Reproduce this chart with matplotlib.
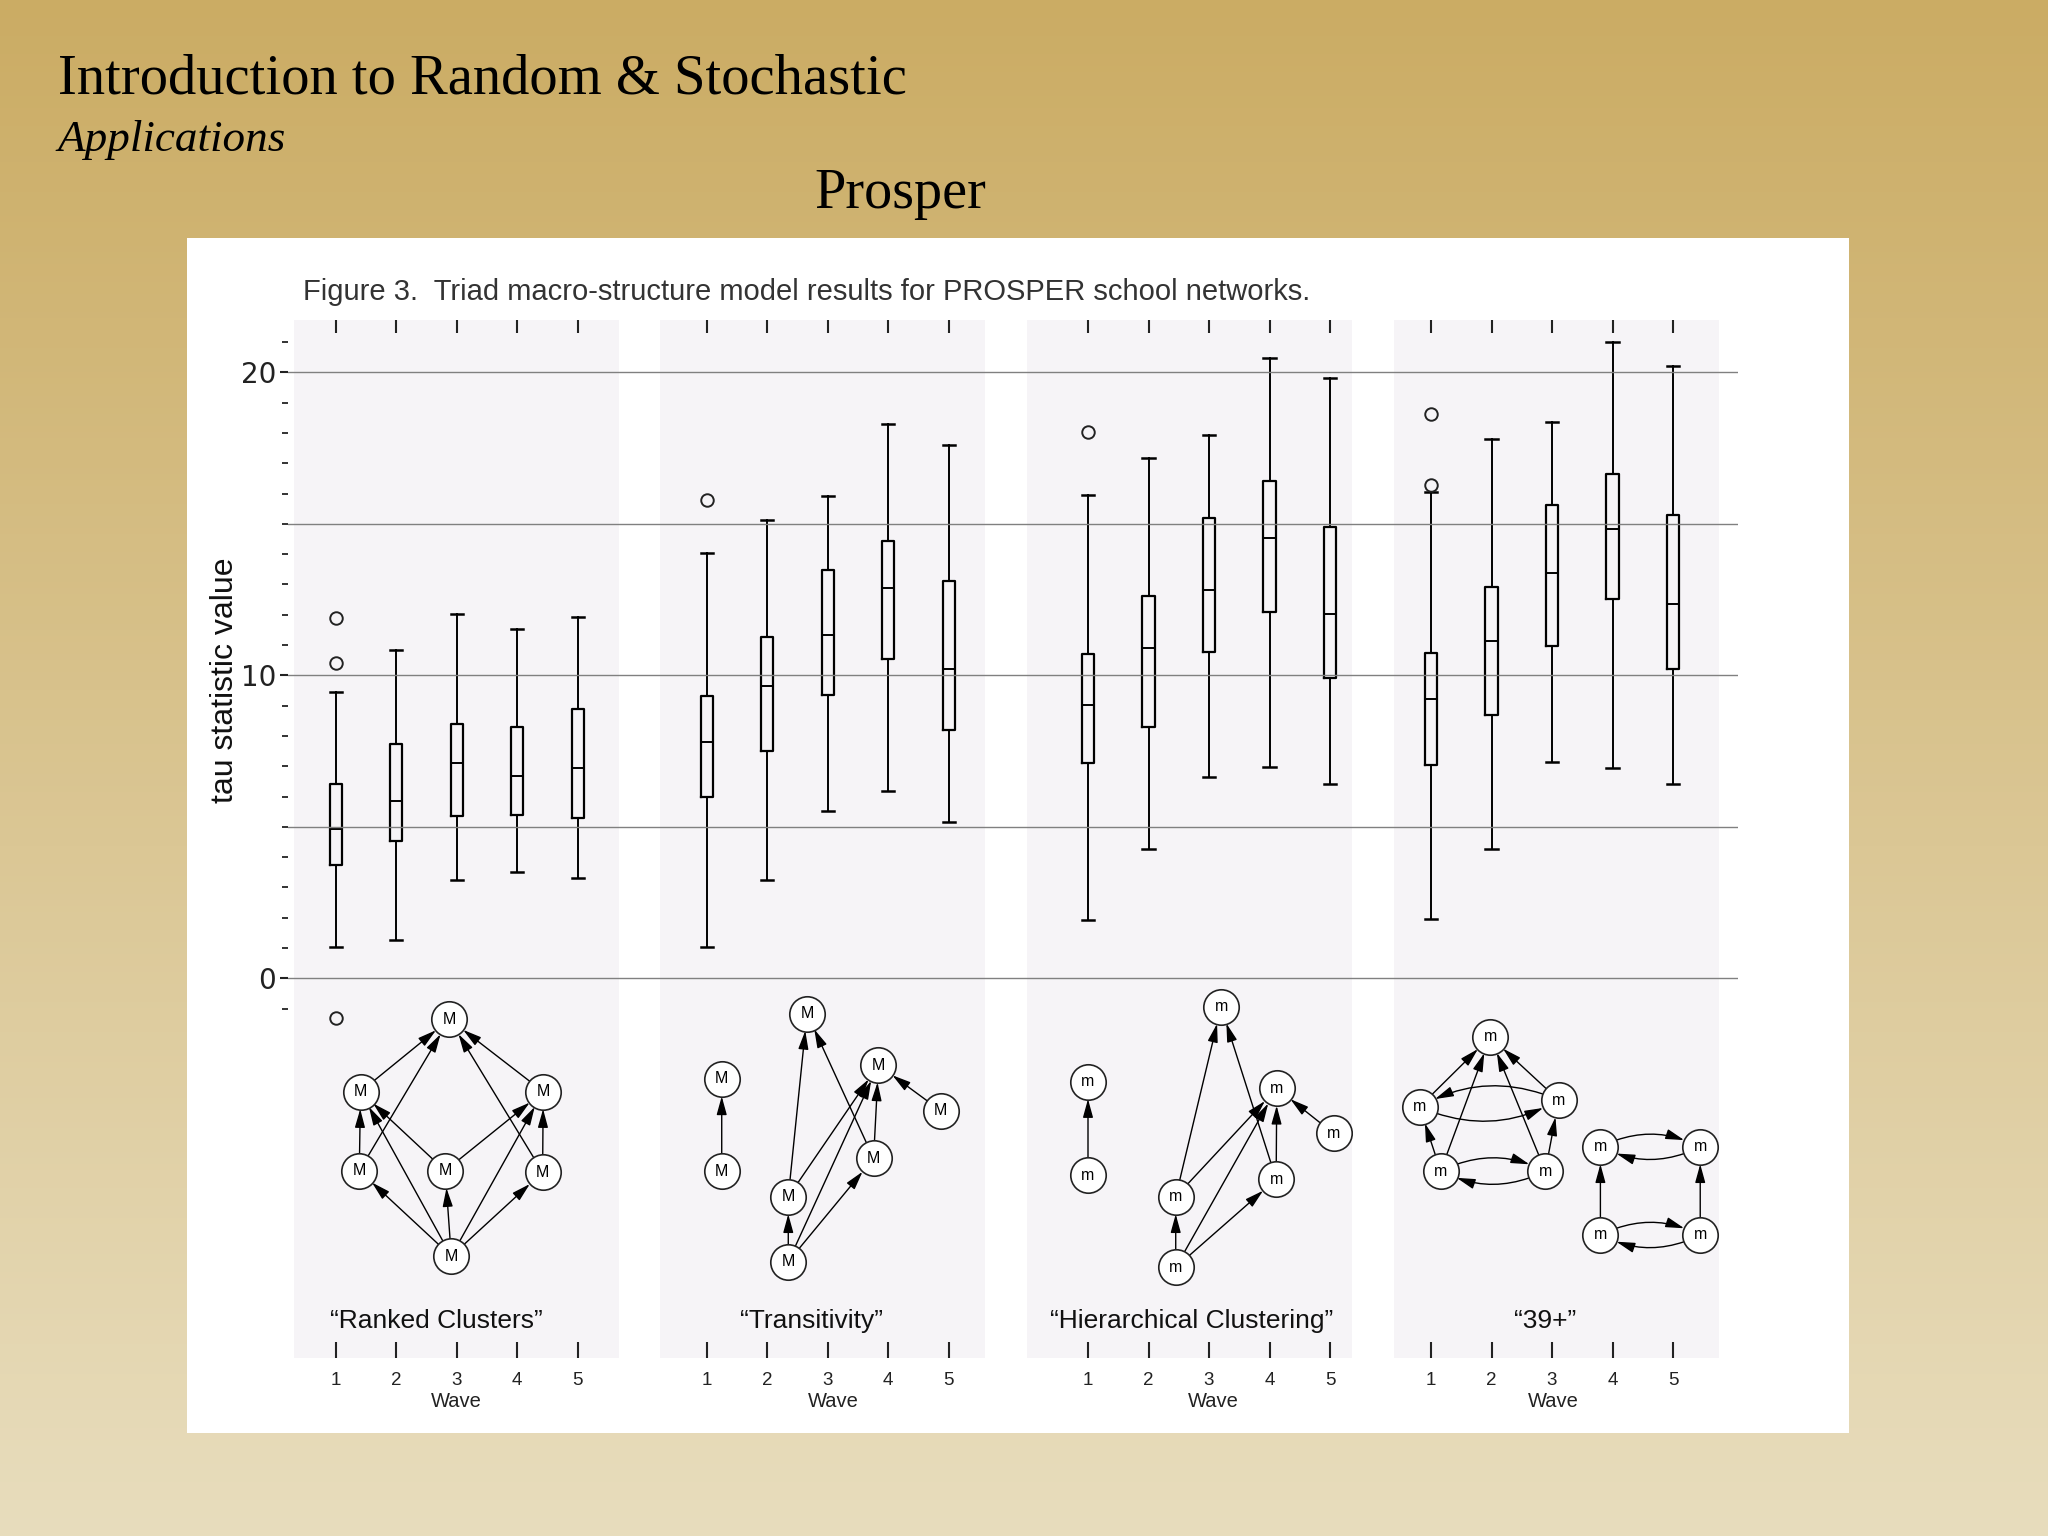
#!/usr/bin/env python3
"""
PROSPER triad macro-structure figure on a tan slide background.
Box plots of tau statistic by wave, with the triad diagrams under each panel.
"""

import matplotlib
matplotlib.use("Agg")
import matplotlib.pyplot as plt
import numpy as np

W, H, DPI = 2048, 1536, 100

waves = [1, 2, 3, 4, 5]
grid_levels = [0, 5, 10, 15, 20]
y_major = [0, 10, 20]
y_minor = list(range(-1, 22))

panel_names = ["\u201cRanked Clusters\u201d", "\u201cTransitivity\u201d",
               "\u201cHierarchical Clustering\u201d", "\u201c39+\u201d"]

# box statistics: whisker low, q1, median, q3, whisker high
ranked_whislo = [1.04, 1.25, 3.24, 3.51, 3.30]
ranked_q1 = [3.75, 4.52, 5.35, 5.40, 5.28]
ranked_med = [4.92, 5.86, 7.12, 6.67, 6.94]
ranked_q3 = [6.42, 7.74, 8.38, 8.30, 8.89]
ranked_whishi = [9.45, 10.84, 12.03, 11.54, 11.92]
ranked_fliers = [[11.9, 10.4, -1.3], [], [], [], []]

trans_whislo = [1.04, 3.24, 5.51, 6.18, 5.16]
trans_q1 = [5.99, 7.50, 9.34, 10.53, 8.19]
trans_med = [7.79, 9.66, 11.33, 12.88, 10.22]
trans_q3 = [9.31, 11.28, 13.49, 14.45, 13.12]
trans_whishi = [14.05, 15.13, 15.91, 18.31, 17.59]
trans_fliers = [[15.8], [], [], [], []]

hier_whislo = [1.92, 4.26, 6.66, 6.99, 6.42]
hier_q1 = [7.10, 8.30, 10.77, 12.10, 9.90]
hier_med = [9.02, 10.89, 12.82, 14.52, 12.04]
hier_q3 = [10.69, 12.61, 15.20, 16.41, 14.89]
hier_whishi = [15.96, 17.16, 17.93, 20.46, 19.81]
hier_fliers = [[18.04], [], [], [], []]

c39_whislo = [1.96, 4.28, 7.15, 6.94, 6.42]
c39_q1 = [7.05, 8.70, 10.97, 12.53, 10.22]
c39_med = [9.21, 11.13, 13.38, 14.84, 12.37]
c39_q3 = [10.73, 12.91, 15.64, 16.65, 15.28]
c39_whishi = [16.05, 17.80, 18.36, 21.02, 20.21]
c39_fliers = [[18.63, 16.28], [], [], [], []]

# triad diagrams: node positions (wave, tau) and directed edges (src, dst, curvature)
ranked_nodes = {"T": (2.88, -1.35), "ML": (1.41, -3.74), "MR": (4.43, -3.74),
                "LL": (1.39, -6.35), "LM": (2.81, -6.35), "LR": (4.42, -6.40),
                "B": (2.91, -9.17)}
ranked_edges = [("B", "LL", 0), ("B", "LM", 0), ("B", "LR", 0), ("B", "ML", 0),
                ("B", "MR", 0), ("LL", "ML", 0), ("LL", "T", 0), ("LM", "ML", 0),
                ("LM", "MR", 0), ("LR", "MR", 0), ("LR", "T", 0), ("ML", "T", 0),
                ("MR", "T", 0)]

trans_nodes = {"A": (1.25, -3.32), "B": (1.25, -6.36), "T": (2.66, -1.16),
               "R1": (3.84, -2.86), "FR": (4.87, -4.37), "R2": (3.76, -5.94),
               "L1": (2.35, -7.21), "L0": (2.35, -9.35)}
hier_nodes = {"A": (1.0, -3.41), "B": (1.0, -6.49), "T": (3.2, -0.94),
              "R1": (4.12, -3.63), "FR": (5.06, -5.12), "R2": (4.11, -6.63),
              "L1": (2.45, -7.21), "L0": (2.45, -9.54)}
trans_edges = [("B", "A", 0), ("L0", "L1", 0), ("L1", "T", 0), ("R2", "T", 0),
               ("L1", "R1", 0), ("L0", "R1", 0), ("L0", "R2", 0), ("R2", "R1", 0),
               ("FR", "R1", 0)]

c39_nodes = {"T": (1.98, -1.93), "L": (0.81, -4.24), "R": (3.11, -4.02),
             "BL": (1.16, -6.36), "BR": (2.89, -6.36), "STL": (3.80, -5.56),
             "STR": (5.45, -5.56), "SBL": (3.80, -8.47), "SBR": (5.45, -8.47)}
c39_edges = [("L", "T", 0), ("R", "T", 0), ("BL", "T", 0), ("BR", "T", 0),
             ("R", "L", 0.25), ("L", "R", 0.25), ("BL", "BR", -0.25),
             ("BR", "BL", -0.25), ("BL", "L", 0), ("BR", "R", 0),
             ("STL", "STR", -0.25), ("STR", "STL", -0.25), ("SBL", "SBR", -0.25),
             ("SBR", "SBL", -0.25), ("SBL", "STL", 0), ("SBR", "STR", 0)]

node_letters = ["M", "M", "m", "m"]
label_x = [2.67, 2.73, 2.72, 2.88]
wave_label_x = [3.0, 3.1, 3.07, 3.03]

# layout in full-size pixels
panel_px = [(294, 619), (660, 985), (1027, 1352), (1394, 1719)]
first_wave_px = [335.7, 706.6, 1088.0, 1431.0]
wave_step_px = 60.5
plot_top, plot_bottom = 320, 1358
y_lo, y_hi = -12.53, 21.73

plt.rcParams["font.family"] = "Liberation Sans"


def rect(x0, y0, x1, y1):
    return [x0 / W, 1 - y1 / H, (x1 - x0) / W, (y1 - y0) / H]


def box_stats(lo, q1, med, q3, hi, fliers):
    return [dict(whislo=a, q1=b, med=c, q3=d, whishi=e, fliers=f)
            for a, b, c, d, e, f in zip(lo, q1, med, q3, hi, fliers)]


fig = plt.figure(figsize=(W / DPI, H / DPI), dpi=DPI)

# slide background gradient
bg = fig.add_axes([0, 0, 1, 1], zorder=-3)
top_c = np.array([203, 172, 100]) / 255
bot_c = np.array([232, 221, 189]) / 255
t = np.linspace(0, 1, 256)[:, None, None]
bg.imshow(top_c * (1 - t) + bot_c * t, aspect="auto", extent=[0, 1, 0, 1])
bg.set_axis_off()

# white figure card
card = fig.add_axes(rect(187, 238, 1849, 1433), zorder=-2)
card.set_facecolor("white")
card.set_xticks([])
card.set_yticks([])
for s in card.spines.values():
    s.set_visible(False)

fig.text(58 / W, 1 - 94 / H, "Introduction to Random & Stochastic",
         family="Liberation Serif", size=40.8, va="baseline")
fig.text(57 / W, 1 - 151 / H, "Applications", family="Liberation Serif",
         style="italic", size=32.5, va="baseline")
fig.text(814 / W, 1 - 208 / H, "Prosper", family="Liberation Serif",
         size=40.5, va="baseline")
fig.text(303 / W, 1 - 300 / H,
         "Figure 3.  Triad macro-structure model results for PROSPER school networks.",
         size=21, color="#333333", va="baseline")
fig.text(225 / W, 1 - 680 / H, "tau statistic value", size=23, rotation=90,
         ha="center", va="center", color="#111111")

all_stats = [
    box_stats(ranked_whislo, ranked_q1, ranked_med, ranked_q3, ranked_whishi, ranked_fliers),
    box_stats(trans_whislo, trans_q1, trans_med, trans_q3, trans_whishi, trans_fliers),
    box_stats(hier_whislo, hier_q1, hier_med, hier_q3, hier_whishi, hier_fliers),
    box_stats(c39_whislo, c39_q1, c39_med, c39_q3, c39_whishi, c39_fliers),
]
all_nodes = [ranked_nodes, trans_nodes, hier_nodes, c39_nodes]
all_edges = [ranked_edges, trans_edges, trans_edges, c39_edges]

for i in range(4):
    x0, x1 = panel_px[i]
    ax = fig.add_axes(rect(x0, plot_top, x1, plot_bottom), zorder=0)
    ax.set_facecolor("#F6F4F7")
    lo = 1 - (first_wave_px[i] - x0) / wave_step_px
    hi = lo + (x1 - x0) / wave_step_px
    ax.set_xlim(lo, hi)
    ax.set_ylim(y_lo, y_hi)
    for s in ax.spines.values():
        s.set_visible(False)

    ax.bxp(all_stats[i], positions=waves, widths=0.2, capwidths=0.2,
           manage_ticks=False,
           boxprops=dict(color="black", lw=1.6),
           whiskerprops=dict(color="black", lw=1.4),
           capprops=dict(color="black", lw=1.8),
           medianprops=dict(color="black", lw=1.4),
           flierprops=dict(marker="o", markersize=9, markerfacecolor="none",
                           markeredgecolor="#222222", markeredgewidth=1.4))

    ax.set_xticks(waves)
    ax.set_xticklabels([str(w) for w in waves])
    ax.set_yticks([])
    ax.tick_params(axis="x", top=True, bottom=True, direction="in", width=1.5,
                   color="#222222", labelsize=13.5, pad=10, labelcolor="#222222")
    for k, tick in enumerate(ax.xaxis.get_major_ticks()):
        tick.tick1line.set_markersize(11.5)
        tick.tick2line.set_markersize(9.5)
        if i == 0 and k == 4:
            tick.tick1line.set_color("#aaaaaa")
            tick.tick2line.set_color("#aaaaaa")
    ax.set_xlabel("Wave", size=14.5, color="#222222")
    ax.xaxis.set_label_coords((wave_label_x[i] - lo) / (hi - lo), -0.033)

    # triad diagram
    nodes = all_nodes[i]
    for src, dst, rad in all_edges[i]:
        ax.annotate("", xy=nodes[dst], xytext=nodes[src],
                    arrowprops=dict(arrowstyle="-|>,head_length=0.8,head_width=0.22",
                                    color="black", lw=1.0, shrinkA=12.5, shrinkB=12.5,
                                    mutation_scale=14,
                                    connectionstyle=f"arc3,rad={rad}"),
                    zorder=2)
    for name, (nx, ny) in nodes.items():
        ax.plot(nx, ny, marker="o", markersize=25.5, markerfacecolor="white",
                markeredgecolor="#222222", markeredgewidth=1.2, zorder=3)
        ax.text(nx, ny, node_letters[i], ha="center", va="center", size=11.5, zorder=4)

    ax.text(label_x[i], -11.3, panel_names[i], ha="center", va="center",
            size=19, color="#111111")

# shared y axis and reference lines across panels
base = fig.add_axes(rect(288, plot_top, 1738, plot_bottom), zorder=1)
base.patch.set_alpha(0)
base.set_ylim(y_lo, y_hi)
base.set_xlim(0, 1)
for s in base.spines.values():
    s.set_visible(False)
base.set_xticks([])
base.set_yticks(y_major)
base.set_yticks(y_minor, minor=True)
base.set_yticklabels([str(v) for v in y_major], family="DejaVu Sans")
base.tick_params(axis="y", which="major", direction="out", length=5.5, width=1.5,
                 labelsize=20, pad=3, color="#222222", labelcolor="#222222")
base.tick_params(axis="y", which="minor", direction="out", length=4, width=1.3,
                 color="#222222")
for v in grid_levels:
    base.axhline(v, color="#808080", lw=1.0)

fig.savefig("out.png", dpi=DPI)
